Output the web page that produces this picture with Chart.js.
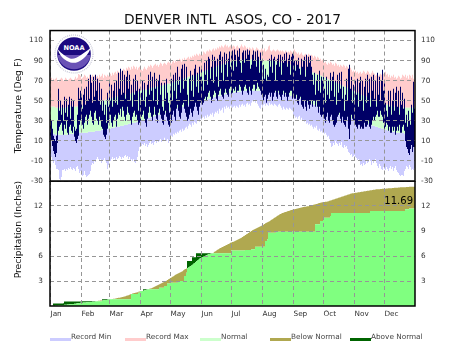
<!DOCTYPE html>
<html>
<head>
<meta charset="utf-8">
<title>Denver Intl ASOS 2017</title>
<script src="https://cdn.jsdelivr.net/npm/chart.js@4/dist/chart.umd.min.js"></script>
<style>
html,body{margin:0;padding:0;background:#fff;}
#page{position:relative;width:465px;height:345px;overflow:hidden;font-family:"DejaVu Sans",sans-serif;}
#page canvas{position:absolute;left:0;}
#logo{position:absolute;left:54px;top:34px;width:40px;height:40px;background:#fff;}
.sw{position:absolute;top:338px;width:21px;height:3px;}
.lb{position:absolute;top:332px;font-size:7.3px;line-height:10px;color:#444;white-space:nowrap;}
</style>
</head>
<body>
<div id="page">
<canvas id="tempChart" width="465" height="183" style="top:0"></canvas>
<canvas id="precipChart" width="465" height="164" style="top:181px"></canvas>
<svg id="logo" viewBox="0 0 40 40">
  <circle cx="20" cy="20" r="19" fill="#fff" stroke="#c6c6d6" stroke-width="1.2" stroke-dasharray="1 1"/>
  <circle cx="20" cy="20" r="16.8" fill="#1c0a80"/>
  <path d="M3.4 21 A16.8 16.8 0 0 0 36.6 21 Z" fill="#6a52b6"/>
  <path d="M3.5 15 C8 20 12 23 16 24.5 C19 25.5 23 24 27 21 C30 19 34 16 36.5 14 C35 20 29 26 24 28 C20 29.5 17 29 13 27 C9 25 5 20 3.5 15 Z" fill="#fff"/>
  <text x="20" y="15.5" text-anchor="middle" font-family="DejaVu Sans" font-size="6.6" font-weight="bold" fill="#fff">NOAA</text>
</svg>
<div class="sw" style="left:50px;background:#ccccff"></div><div class="lb" style="left:71px">Record Min</div>
<div class="sw" style="left:125px;background:#ffcccc"></div><div class="lb" style="left:146px">Record Max</div>
<div class="sw" style="left:200px;background:#ccffcc"></div><div class="lb" style="left:221px">Normal</div>
<div class="sw" style="left:270px;background:#b0a850"></div><div class="lb" style="left:291px">Below Normal</div>
<div class="sw" style="left:350px;background:#006400"></div><div class="lb" style="left:371px">Above Normal</div>
</div>
<script>
// datos, un valor por dia del 2017
const months = ['Jan','Feb','Mar','Apr','May','Jun','Jul','Aug','Sep','Oct','Nov','Dec'];
const monthDays = [31,28,31,30,31,30,31,31,30,31,30,31];
const tempTicks = [110,90,70,50,30,10,-10,-30];
const precipTicks = [12,9,6,3];

const recordMin = [
-8,-6,-10,-12,-10,-14,-18,-18,-19,-28,-29,-26,-19,-19,-18,-20,-18,-19,-17,-18,-16,-18,-19,-17,-18,-20,-16,-15,-18,-22,-20,
-24,-25,-24,-20,-24,-26,-25,-24,-23,-20,-14,-12,-13,-10,-11,-8,-6,-8,-10,-8,-12,-10,-9,-7,-10,-12,-18,-14,
-8,-10,-8,-6,-8,-7,-9,-6,-8,-7,-5,-6,-8,-6,-7,-5,-4,-6,-5,-8,-6,-9,-8,-10,-8,-11,-12,-9,-6,0,4,
6,5,7,6,8,5,7,4,6,8,10,7,8,6,9,10,8,11,9,10,12,9,11,10,13,11,10,12,8,10,
13,15,14,17,16,18,17,19,18,20,21,19,22,20,21,23,24,22,25,27,26,24,28,26,29,28,27,30,31,29,32,
31,33,34,32,35,33,36,34,35,37,36,38,34,37,39,38,40,37,42,40,41,43,38,44,42,45,43,44,42,45,
44,43,44,45,43,45,44,43,46,44,46,47,45,46,44,47,48,46,47,45,48,50,49,51,48,50,47,45,43,42,46,
44,46,47,45,47,46,45,48,46,47,46,45,47,46,45,44,46,47,45,43,41,44,42,41,43,42,41,43,42,41,40,
36,35,33,34,32,34,35,31,33,30,31,29,30,27,28,26,27,25,26,24,22,24,23,25,21,20,22,19,20,18,
19,17,18,16,14,15,12,8,4,5,8,6,10,8,7,5,8,6,9,4,3,6,4,5,2,-1,-2,-4,-3,-6,-5,
-4,-6,-7,-9,-8,-10,-14,-13,-15,-12,-14,-13,-10,-12,-11,-8,-10,-14,-9,-12,-10,-8,-12,-15,-17,-13,-15,-18,-19,-16,
-18,-19,-16,-18,-20,-17,-15,-18,-16,-20,-17,-15,-19,-21,-22,-24,-25,-24,-24,-25,-20,-18,-15,-16,-18,-14,-16,-19,-18,-19,-17];

const recordMax = [
72,73,70,72,71,72,73,70,69,71,72,73,72,70,71,73,72,70,71,72,73,72,71,70,72,74,72,73,77,76,75,
72,73,74,76,75,73,74,72,76,75,74,76,73,75,76,74,75,73,76,74,75,77,73,76,75,74,76,75,
76,77,75,78,76,78,79,77,80,79,78,81,79,80,82,81,80,83,82,84,83,81,84,82,85,84,82,84,81,83,84,
83,81,80,82,84,82,81,83,85,84,86,85,83,85,86,87,85,86,84,86,88,87,85,87,88,87,86,88,89,88,
89,87,89,90,88,90,89,91,90,92,91,89,92,90,93,91,92,93,94,92,94,93,95,94,96,95,97,96,95,97,96,
97,96,99,98,97,99,100,99,101,100,99,101,102,100,102,101,103,102,104,103,105,104,103,105,106,104,105,103,104,105,
103,104,105,104,102,104,105,103,102,104,106,104,103,105,104,102,103,101,103,102,101,103,102,100,101,103,102,101,100,100,102,
101,100,102,99,100,101,104,105,100,99,100,101,100,99,100,101,100,99,100,99,100,99,98,100,99,98,99,98,100,99,98,
100,101,99,98,97,98,96,97,98,96,95,96,97,96,95,97,96,95,96,95,93,95,94,92,94,93,91,92,90,91,
90,88,89,87,86,88,87,89,88,86,87,85,88,87,85,86,84,86,85,84,86,85,83,85,84,82,85,83,81,79,80,
79,80,78,79,77,78,79,77,78,80,79,77,78,80,79,77,76,78,80,78,77,75,76,74,75,76,77,76,78,77,
78,79,76,77,74,76,73,75,74,76,73,74,72,73,75,74,72,73,76,75,74,76,73,75,72,76,75,73,76,72,71];

const normalLow = [
17,17,17,17,17,16,16,16,16,16,16,16,16,16,16,16,16,16,17,17,17,17,17,17,17,17,17,18,18,18,18,
18,18,18,18,18,18,18,19,19,19,19,19,19,19,20,20,20,20,20,20,21,21,21,21,21,22,22,22,
22,22,23,23,23,23,24,24,24,24,24,25,25,25,25,26,26,26,26,27,27,27,27,28,28,28,28,29,29,29,30,
30,30,31,31,31,32,32,32,33,33,33,34,34,34,35,35,35,36,36,36,37,37,37,38,38,38,39,39,40,40,
41,41,41,42,42,42,42,43,43,43,43,44,44,44,45,45,45,45,46,46,46,47,47,47,47,48,48,48,48,49,49,
49,50,50,50,51,51,51,52,52,52,53,53,53,54,54,54,54,55,55,55,56,56,56,56,57,57,57,57,58,58,
58,58,58,58,59,59,59,59,59,59,60,60,60,60,60,60,60,60,60,60,60,60,60,60,60,60,60,60,60,60,60,
60,60,60,60,60,60,59,59,59,59,59,59,59,59,58,58,58,58,58,58,57,57,57,57,56,56,56,56,55,55,55,
54,54,54,53,53,52,52,52,51,51,50,50,50,49,49,48,48,47,47,46,46,46,45,45,44,44,43,43,43,42,
42,41,41,41,40,40,40,39,39,39,38,38,38,37,37,37,36,36,36,35,35,35,34,34,34,33,33,33,32,32,32,
31,31,31,30,30,30,29,29,29,28,28,28,27,27,27,26,26,26,25,25,25,24,24,24,23,23,23,22,22,22,
21,21,21,20,20,20,20,19,19,19,19,19,18,18,18,18,18,18,18,18,17,17,17,17,17,17,17,17,17,17,17];

const normalHigh = [
44,44,44,44,44,43,43,43,43,43,43,43,43,43,43,43,44,44,44,44,44,44,44,44,44,44,44,44,45,45,45,
45,45,45,46,46,46,46,46,47,47,47,47,48,48,48,48,49,49,49,49,50,50,50,50,51,51,51,52,
52,52,53,53,53,53,54,54,54,54,55,55,55,55,56,56,56,56,57,57,57,57,58,58,58,58,59,59,59,59,60,
60,60,60,61,61,61,61,62,62,62,62,63,63,63,63,64,64,64,64,65,65,65,65,66,66,66,66,67,67,67,
68,68,68,69,69,69,70,70,70,71,71,71,72,72,72,73,73,73,74,74,74,75,75,75,76,76,76,77,77,78,78,
78,79,79,80,80,81,81,81,82,82,83,83,83,84,84,84,85,85,85,86,86,86,87,87,87,88,88,88,89,89,
89,89,90,90,90,90,90,91,91,91,91,91,91,91,91,91,91,91,91,91,91,91,91,91,91,91,91,91,91,91,91,
91,91,90,90,90,90,90,90,90,90,90,90,90,90,89,89,89,89,89,88,88,88,88,88,87,87,87,87,86,86,86,
85,85,85,84,84,84,83,83,83,82,82,82,81,81,80,80,80,79,79,78,78,78,77,77,76,76,75,75,75,74,
74,73,73,72,72,71,71,71,70,70,69,69,68,68,67,67,66,66,65,65,65,64,64,63,63,62,62,61,61,60,60,
59,59,58,58,58,57,57,56,56,55,55,54,54,53,53,52,52,52,51,51,50,50,50,49,49,48,48,48,47,47,
47,46,46,46,45,45,45,45,44,44,44,44,44,43,43,43,43,43,43,43,43,43,43,43,43,43,43,43,43,43,44];

const obsLow = [
12,10,5,0,-3,-6,-2,8,20,24,26,28,20,16,26,22,30,18,16,24,26,20,18,24,14,10,8,12,15,26,30,
32,26,22,28,34,36,26,32,36,40,34,28,26,38,40,32,30,26,34,30,24,22,16,14,12,16,22,28,
32,36,28,24,30,34,36,24,32,38,36,42,34,44,40,34,30,36,44,38,36,30,26,34,38,40,34,36,30,26,28,
30,34,36,40,32,28,24,32,38,44,38,34,30,36,44,36,32,28,38,42,36,32,28,26,36,40,34,30,26,24,
32,28,36,40,34,30,42,46,40,34,32,38,46,48,42,38,34,30,32,36,42,38,34,40,44,48,44,40,36,44,48,
48,46,48,52,54,50,54,58,60,54,48,52,56,60,58,52,50,56,60,62,56,54,52,58,62,58,56,54,62,64,
56,58,62,60,64,58,60,60,66,64,60,56,60,64,66,62,58,56,64,60,56,62,66,66,60,62,68,64,62,60,56,
54,50,54,56,48,52,56,58,54,58,50,54,58,60,54,52,60,56,54,50,56,60,54,58,54,50,54,58,60,60,52,
54,52,52,56,48,46,52,54,46,44,42,50,44,40,50,46,42,46,50,44,50,50,44,50,44,38,44,36,34,36,
36,32,28,34,38,30,28,34,36,30,26,24,26,28,34,36,38,32,28,34,28,26,24,30,34,22,12,26,36,32,30,
30,26,24,22,26,26,22,24,22,22,28,24,24,26,30,24,22,26,30,34,30,34,36,40,34,34,40,36,34,28,
18,24,28,26,20,24,18,18,24,20,24,16,20,24,20,26,18,18,24,26,20,10,4,2,-2,-4,2,6,-1,4,4];

const obsHigh = [
32,30,22,15,12,10,15,30,62,40,50,36,46,30,54,38,52,34,46,54,32,52,44,50,24,20,22,36,63,52,60,
54,42,56,62,46,64,50,72,52,76,68,48,74,54,76,60,72,50,68,46,62,40,50,36,46,28,58,44,
70,50,66,44,60,68,48,70,46,78,62,82,56,80,58,76,52,74,80,62,76,50,66,44,72,56,76,60,70,40,62,
46,58,70,50,68,44,54,66,76,56,79,60,74,50,78,62,72,46,70,76,56,68,44,40,68,52,72,58,48,38,
64,72,50,76,60,78,52,84,66,74,58,82,86,62,87,70,84,56,44,72,80,60,76,54,82,86,64,78,58,84,74,
84,70,60,88,76,90,66,94,92,72,84,96,68,94,90,74,92,64,96,99,78,94,70,98,86,97,74,92,99,84,
96,100,80,101,96,84,100,94,102,88,78,98,100,88,100,92,101,96,100,82,86,96,100,90,99,84,100,94,78,98,90,
68,86,72,82,70,76,74,92,84,96,78,92,94,70,86,92,96,84,96,76,94,88,97,90,98,84,92,96,76,94,97,
97,90,80,90,86,93,82,76,92,84,90,94,74,96,84,94,88,95,84,76,66,78,56,70,76,60,80,58,74,70,
74,62,48,74,56,70,52,78,60,74,79,54,70,46,76,58,78,62,79,52,64,40,56,72,50,82,86,62,74,48,66,
50,70,56,72,44,68,74,50,70,40,64,72,48,76,58,72,44,74,60,76,52,70,44,78,56,74,50,70,81,60,
70,48,40,34,60,44,60,36,50,62,40,58,64,44,60,36,64,46,58,42,52,28,36,24,40,30,26,46,38,69,42];

const precipObs = [
0,0,.02,.3,.3,.3,.3,.3,.3,.3,.3,.3,.3,.32,.55,.55,.55,.55,.55,.55,.55,.55,.55,.55,.55,.55,.55,.55,.55,.55,.55,
.58,.58,.58,.58,.58,.58,.58,.58,.58,.58,.58,.58,.58,.58,.58,.58,.58,.58,.58,.58,.58,.8,.8,.8,.8,.8,.8,.8,
.8,.8,.8,.8,.8,.8,.8,.8,.8,.8,.8,.8,.8,.8,.8,.8,.8,.8,.8,.8,.8,.8,1.45,1.45,1.45,1.45,1.45,1.45,1.45,1.6,1.6,
1.8,1.8,1.8,2,2,2,2,2,2,2,2,2,2,2,2,2,2,2,2,2.2,2.2,2.2,2.2,2.2,2.4,2.4,2.4,2.7,2.7,2.7,
2.8,2.8,2.8,2.8,2.8,2.8,2.8,2.8,3,3,3,3,3,3,3.6,3.6,4,5.4,5.4,5.4,5.4,5.4,5.85,5.85,5.85,5.85,6.32,6.32,6.32,6.32,6.32,
6.32,6.32,6.32,6.32,6.32,6.32,6.32,6.32,6.32,6.32,6.32,6.32,6.32,6.32,6.32,6.32,6.32,6.32,6.32,6.32,6.32,6.32,6.32,6.32,6.32,6.32,6.32,6.32,6.32,6.32,
6.65,6.65,6.65,6.65,6.65,6.65,6.65,6.65,6.65,6.65,6.65,6.65,6.65,6.65,6.72,6.72,6.72,6.72,6.72,6.72,6.8,6.8,6.8,6.8,7.1,7.1,7.1,7.1,7.1,7.1,7.1,
7.1,7.1,7.1,7.8,7.8,8,8.8,8.8,8.8,8.8,8.8,8.8,8.8,8.8,8.92,8.92,8.92,8.92,8.92,8.92,8.92,8.92,8.92,8.92,8.92,8.92,8.92,8.92,8.92,8.92,8.92,
8.92,8.92,8.92,8.92,8.92,8.92,8.92,8.92,8.92,8.92,8.92,8.92,8.92,8.92,8.92,8.92,8.92,8.92,8.92,8.92,8.92,8.92,9.8,9.8,9.8,9.8,9.8,10.2,10.2,10.2,
10.6,10.6,10.6,10.6,10.6,10.6,10.6,10.8,11.15,11.15,11.15,11.15,11.15,11.15,11.15,11.15,11.15,11.15,11.15,11.15,11.15,11.15,11.15,11.15,11.15,11.15,11.15,11.15,11.15,11.15,11.15,
11.15,11.15,11.15,11.15,11.15,11.15,11.15,11.15,11.15,11.15,11.15,11.15,11.15,11.15,11.15,11.15,11.4,11.4,11.4,11.4,11.4,11.4,11.4,11.4,11.4,11.4,11.4,11.4,11.4,11.4,
11.4,11.4,11.4,11.4,11.4,11.4,11.4,11.4,11.4,11.4,11.4,11.4,11.4,11.4,11.4,11.4,11.4,11.4,11.4,11.4,11.4,11.6,11.6,11.6,11.6,11.69,11.69,11.69,11.69,11.69,11.69];

const precipNormal = [
0,.01,.02,.03,.04,.05,.06,.07,.08,.09,.1,.11,.12,.13,.14,.15,.16,.17,.18,.2,.21,.22,.24,.25,.27,.28,.3,.32,.34,.36,.38,
.39,.4,.41,.42,.43,.44,.45,.46,.47,.48,.49,.5,.51,.52,.54,.58,.6,.62,.63,.65,.66,.67,.68,.7,.72,.73,.75,.77,
.78,.8,.82,.84,.86,.88,.9,.93,.95,.98,1,1.03,1.06,1.09,1.12,1.15,1.18,1.22,1.26,1.3,1.35,1.4,1.45,1.5,1.53,1.56,1.6,1.63,1.66,1.7,1.74,
1.76,1.78,1.8,1.84,1.88,1.9,1.94,1.98,2.02,2.06,2.1,2.14,2.18,2.24,2.3,2.36,2.42,2.48,2.54,2.6,2.66,2.72,2.78,2.84,2.9,2.96,3.04,3.12,3.2,3.28,
3.35,3.42,3.5,3.58,3.66,3.74,3.82,3.88,3.94,4,4.06,4.12,4.18,4.28,4.38,4.44,4.5,4.56,4.62,4.7,4.78,4.86,4.96,5.06,5.16,5.26,5.36,5.46,5.56,5.66,5.74,
5.8,5.86,5.92,5.98,6.04,6.1,6.16,6.2,6.25,6.28,6.3,6.34,6.4,6.5,6.58,6.66,6.74,6.82,6.9,6.96,7.02,7.08,7.14,7.2,7.26,7.32,7.38,7.44,7.5,7.58,
7.62,7.68,7.72,7.76,7.82,7.88,7.94,8,8.06,8.12,8.2,8.28,8.36,8.44,8.52,8.6,8.68,8.76,8.84,8.92,9,9.08,9.14,9.2,9.26,9.32,9.38,9.44,9.5,9.56,9.62,
9.68,9.76,9.84,9.92,10,10.06,10.12,10.18,10.26,10.34,10.42,10.5,10.58,10.66,10.74,10.82,10.9,10.98,11.04,11.1,11.16,11.2,11.24,11.28,11.32,11.36,11.4,11.44,11.48,11.52,11.56,
11.6,11.62,11.64,11.66,11.7,11.74,11.76,11.8,11.82,11.86,11.88,11.9,11.92,11.94,11.96,11.98,12,12.02,12.06,12.1,12.14,12.18,12.2,12.24,12.28,12.32,12.36,12.4,12.42,12.44,
12.46,12.48,12.5,12.52,12.54,12.58,12.62,12.66,12.7,12.74,12.78,12.82,12.86,12.9,12.94,12.98,13.02,13.06,13.1,13.14,13.18,13.22,13.26,13.3,13.34,13.38,13.42,13.46,13.5,13.52,13.54,
13.56,13.58,13.6,13.62,13.64,13.66,13.68,13.7,13.72,13.74,13.76,13.78,13.8,13.82,13.84,13.86,13.88,13.9,13.92,13.94,13.96,13.98,14,14,14.02,14.02,14.04,14.04,14.06,14.06,
14.08,14.08,14.1,14.1,14.12,14.12,14.14,14.14,14.16,14.16,14.18,14.18,14.2,14.2,14.22,14.22,14.24,14.24,14.24,14.26,14.26,14.26,14.28,14.28,14.28,14.3,14.3,14.3,14.3,14.32,14.32];

// un label por dia y el indice del dia 1 de cada mes
const dayLabels = [];
const monthStarts = [];
months.forEach((m,i)=>{
    monthStarts.push(dayLabels.length);
    for(let d=1;d<=monthDays[i];d++) dayLabels.push(m+' '+d);
});

const gridColor = '#969696';
const tickColor = '#333';
const tickFont = {family:'DejaVu Sans',size:7.3};
const titleFont = {family:'DejaVu Sans',size:9.2};

// marco negro alrededor del area del grafico
const framePlugin = {
    id:'frame',
    afterDraw(chart){
        const {ctx,chartArea:a} = chart;
        ctx.save();
        ctx.strokeStyle = '#000';
        ctx.lineWidth = 1.5;
        ctx.strokeRect(a.left,a.top,a.right-a.left,a.bottom-a.top);
        ctx.restore();
    }
};

// total acumulado arriba a la derecha
const totalPlugin = {
    id:'total',
    afterDraw(chart){
        const {ctx,chartArea:a,scales} = chart;
        ctx.save();
        ctx.fillStyle = '#000';
        ctx.font = '10px "DejaVu Sans"';
        ctx.textAlign = 'right';
        ctx.textBaseline = 'middle';
        ctx.fillText(precipObs[precipObs.length-1].toFixed(2),a.right-2,scales.y.getPixelForValue(12.5));
        ctx.restore();
    }
};

// sin el padding que chart.js reserva para los ticks, asi el area queda fija
const noPadding = (s)=>{ s.paddingTop = 0; s.paddingBottom = 0; s.paddingLeft = 0; s.paddingRight = 0; };

const xAxis = (showLabels)=>({
    offset:true,
    grid:{display:true,offset:false,drawTicks:false,color:gridColor,z:1},
    border:{display:false,dash:[4,3]},
    ticks:{
        display:showLabels,autoSkip:false,maxRotation:0,minRotation:0,align:'start',padding:4,
        color:tickColor,font:tickFont,
        callback:(v)=>months[monthStarts.indexOf(v)]
    },
    afterBuildTicks:(s)=>{ s.ticks = monthStarts.map(v=>({value:v})); },
    afterFit:(s)=>{ s.height = showLabels ? 39 : 2; noPadding(s); }
});

const yAxes = (min,max,ticks,title,align)=>({
    y:{
        position:'left',min,max,
        grid:{drawTicks:false,color:gridColor,z:1},
        border:{display:false,dash:[4,3]},
        ticks:{color:tickColor,font:tickFont,padding:7},
        title:{display:true,text:title,color:'#111',font:titleFont,align,padding:{top:13,bottom:0}},
        afterBuildTicks:(s)=>{ s.ticks = ticks.map(v=>({value:v})); },
        afterFit:(s)=>{ s.width = 50; noPadding(s); }
    },
    y2:{
        position:'right',min,max,
        grid:{display:false,drawTicks:false},
        border:{display:false},
        ticks:{color:tickColor,font:tickFont,padding:6},
        afterBuildTicks:(s)=>{ s.ticks = ticks.map(v=>({value:v})); },
        afterFit:(s)=>{ s.width = 50; noPadding(s); }
    }
});

const barOpts = {grouped:false,barPercentage:1,categoryPercentage:1,borderWidth:0,inflateAmount:0};
const span = (a,b)=>a.map((v,i)=>[v,b[i]]);

// el primer dataset queda encima de los demas
new Chart(document.querySelector('#tempChart'),{
    type:'bar',
    data:{
        labels:dayLabels,
        datasets:[
            {label:'Observed',data:span(obsLow,obsHigh),backgroundColor:'#000066',...barOpts},
            {label:'Normal',data:span(normalLow,normalHigh),backgroundColor:'#ccffcc',...barOpts},
            {label:'Record Max',data:span(normalHigh,recordMax),backgroundColor:'#ffcccc',...barOpts},
            {label:'Record Min',data:span(recordMin,normalLow),backgroundColor:'#ccccff',...barOpts}
        ]
    },
    options:{
        responsive:false,animation:false,
        layout:{padding:{top:0,bottom:0,left:0,right:0}},
        plugins:{
            legend:{display:false},tooltip:{enabled:false},
            title:{display:true,text:'DENVER INTL  ASOS, CO - 2017',color:'#111',
                font:{family:'DejaVu Sans',size:13.8,weight:'normal'},padding:{top:12,bottom:2}}
        },
        scales:{x:xAxis(false),...yAxes(-30,120,tempTicks,'Temperature (Deg F)','center')}
    },
    plugins:[framePlugin]
});

new Chart(document.querySelector('#precipChart'),{
    type:'bar',
    data:{
        labels:dayLabels,
        datasets:[
            {label:'Observed',data:precipObs.map((v,i)=>[0,Math.min(v,precipNormal[i])]),backgroundColor:'#80ff80',...barOpts},
            {label:'Below Normal',data:precipObs.map((v,i)=>v<precipNormal[i]?[v,precipNormal[i]]:null),backgroundColor:'#b0a850',...barOpts},
            {label:'Above Normal',data:precipObs.map((v,i)=>v>precipNormal[i]?[precipNormal[i],v]:null),backgroundColor:'#006400',...barOpts}
        ]
    },
    options:{
        responsive:false,animation:false,
        layout:{padding:0},
        plugins:{legend:{display:false},tooltip:{enabled:false}},
        scales:{x:xAxis(true),...yAxes(0,15,precipTicks,'Precipitation (Inches)','end')}
    },
    plugins:[framePlugin,totalPlugin]
});
</script>
</body>
</html>
